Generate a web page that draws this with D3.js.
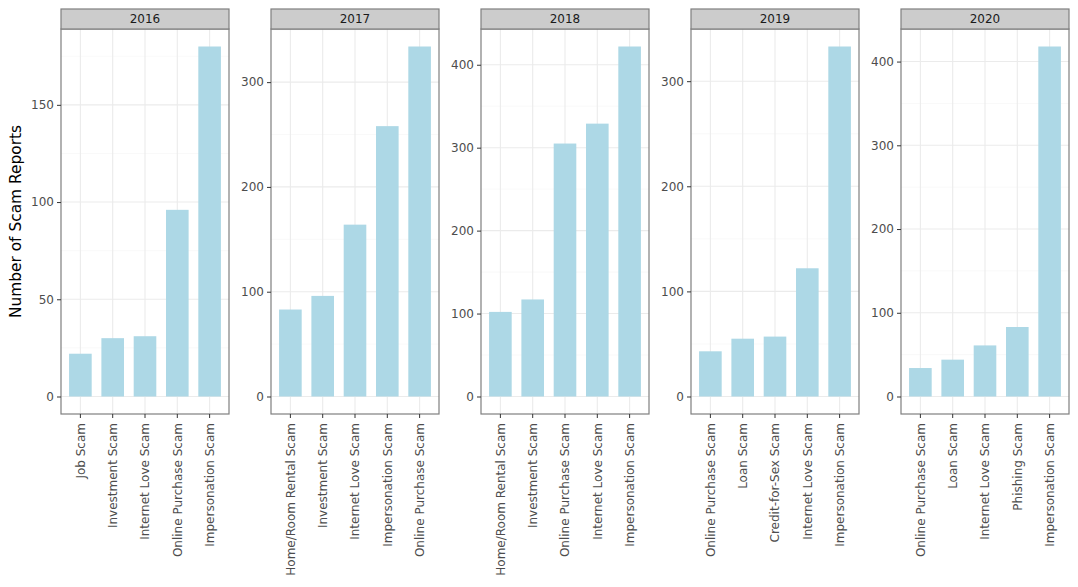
<!DOCTYPE html>
<html>
<head>
<meta charset="utf-8">
<script src="https://cdn.jsdelivr.net/npm/d3@7"></script>
<style>
  body { margin: 0; background: #fff; }
  svg { display: block; font-family: "DejaVu Sans", sans-serif; }
</style>
</head>
<body>
<svg id="chart" width="1078" height="587"></svg>
<script>
// facets
var years = ["2016", "2017", "2018", "2019", "2020"];

// categories per facet (ordered by count)
var cats2016 = ["Job Scam", "Investment Scam", "Internet Love Scam", "Online Purchase Scam", "Impersonation Scam"];
var cats2017 = ["Home/Room Rental Scam", "Investment Scam", "Internet Love Scam", "Impersonation Scam", "Online Purchase Scam"];
var cats2018 = ["Home/Room Rental Scam", "Investment Scam", "Online Purchase Scam", "Internet Love Scam", "Impersonation Scam"];
var cats2019 = ["Online Purchase Scam", "Loan Scam", "Credit-for-Sex Scam", "Internet Love Scam", "Impersonation Scam"];
var cats2020 = ["Online Purchase Scam", "Loan Scam", "Internet Love Scam", "Phishing Scam", "Impersonation Scam"];

// report counts
var vals2016 = [22, 30, 31, 96, 180];
var vals2017 = [83, 96, 164, 258, 334];
var vals2018 = [102, 117, 305, 329, 422];
var vals2019 = [43, 55, 57, 122, 333];
var vals2020 = [34, 44, 61, 83, 418];

var allCats = [cats2016, cats2017, cats2018, cats2019, cats2020];
var allVals = [vals2016, vals2017, vals2018, vals2019, vals2020];

var svg = d3.select("#chart");

var panelW = 168,
    panelTop = 29,
    panelBottom = 414,
    stripH = 20,
    panelLefts = [61, 271, 481, 691, 901],
    fontSize = "12px";

/*Y axis title*/
svg.append("text")
  .attr("transform", "translate(21," + ((panelTop + panelBottom) / 2) + ") rotate(-90)")
  .attr("text-anchor", "middle")
  .style("font-size", "15.4px")
  .style("fill", "#000")
  .text("Number of Scam Reports");

years.forEach(function(yr, i) {
  var cats = allCats[i], vals = allVals[i];
  var max = d3.max(vals);

  var g = svg.append("g")
    .attr("transform", "translate(" + panelLefts[i] + ",0)");

  var x = d3.scaleBand()
    .domain(cats)
    .range([0, panelW])
    .paddingInner(0.3)
    .paddingOuter(0.25);

  var y = d3.scaleLinear()
    .domain([-0.05 * max, 1.05 * max])
    .range([panelBottom, panelTop]);

  var major = y.ticks(5);
  var step = major[1] - major[0];
  var minor = [];
  for (var m = major[0] - step / 2; m <= y.domain()[1]; m += step) {
    if (m >= y.domain()[0]) minor.push(m);
  }

  /*background*/
  g.append("rect")
    .attr("x", 0).attr("y", panelTop)
    .attr("width", panelW).attr("height", panelBottom - panelTop)
    .attr("fill", "#fff");

  /*grid*/
  g.selectAll(".minor")
    .data(minor).enter().append("line")
    .attr("x1", 0).attr("x2", panelW)
    .attr("y1", function(d) { return y(d); })
    .attr("y2", function(d) { return y(d); })
    .attr("stroke", "#f5f5f5")
    .attr("stroke-width", 0.6);

  g.selectAll(".major")
    .data(major).enter().append("line")
    .attr("x1", 0).attr("x2", panelW)
    .attr("y1", function(d) { return y(d); })
    .attr("y2", function(d) { return y(d); })
    .attr("stroke", "#ebebeb")
    .attr("stroke-width", 1.1);

  g.selectAll(".vgrid")
    .data(cats).enter().append("line")
    .attr("x1", function(d) { return x(d) + x.bandwidth() / 2; })
    .attr("x2", function(d) { return x(d) + x.bandwidth() / 2; })
    .attr("y1", panelTop).attr("y2", panelBottom)
    .attr("stroke", "#ebebeb")
    .attr("stroke-width", 1.1);

  /*bars*/
  g.selectAll(".bar")
    .data(vals).enter().append("rect")
    .attr("x", function(d, j) { return x(cats[j]); })
    .attr("width", x.bandwidth())
    .attr("y", function(d) { return y(d); })
    .attr("height", function(d) { return y(0) - y(d); })
    .attr("fill", "#add8e6");

  /*panel border*/
  g.append("rect")
    .attr("x", 0).attr("y", panelTop)
    .attr("width", panelW).attr("height", panelBottom - panelTop)
    .attr("fill", "none")
    .attr("stroke", "#7f7f7f")
    .attr("stroke-width", 1.2);

  /*strip*/
  g.append("rect")
    .attr("x", 0).attr("y", panelTop - stripH)
    .attr("width", panelW).attr("height", stripH)
    .attr("fill", "#cccccc")
    .attr("stroke", "#7f7f7f")
    .attr("stroke-width", 1.2);
  g.append("text")
    .attr("x", panelW / 2).attr("y", panelTop - stripH / 2)
    .attr("dy", "0.35em")
    .attr("text-anchor", "middle")
    .style("font-size", fontSize)
    .style("fill", "#1a1a1a")
    .text(yr);

  /*y axis*/
  var yAxis = g.append("g")
    .call(d3.axisLeft(y).tickValues(major).tickSize(4).tickPadding(3).tickFormat(d3.format("d")));
  yAxis.select(".domain").remove();
  yAxis.selectAll(".tick line").attr("stroke", "#333");
  yAxis.selectAll(".tick text")
    .style("font-size", fontSize)
    .style("font-family", "DejaVu Sans")
    .style("fill", "#4d4d4d");

  /*x axis*/
  var xAxis = g.append("g")
    .attr("transform", "translate(0," + panelBottom + ")")
    .call(d3.axisBottom(x).tickSize(4).tickPadding(3));
  xAxis.select(".domain").remove();
  xAxis.selectAll(".tick line").attr("stroke", "#333");
  xAxis.selectAll(".tick text")
    .attr("transform", "rotate(-90)")
    .attr("text-anchor", "end")
    .attr("x", -9)
    .attr("y", 0)
    .attr("dy", "0.35em")
    .style("font-size", fontSize)
    .style("font-family", "DejaVu Sans")
    .style("fill", "#4d4d4d");
});
</script>
</body>
</html>
